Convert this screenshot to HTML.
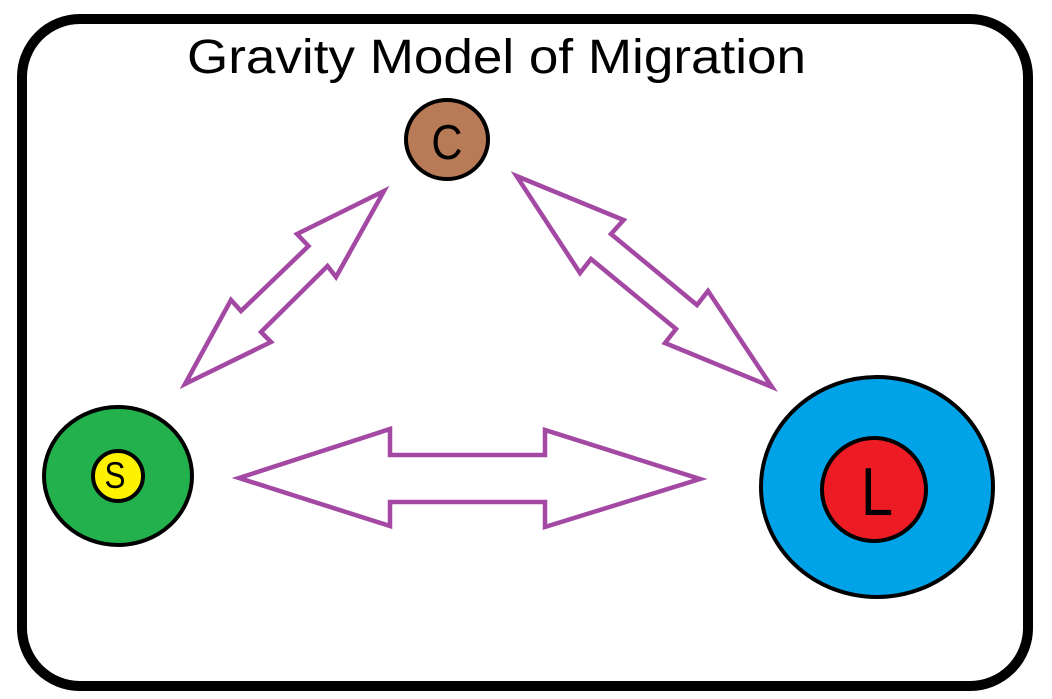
<!DOCTYPE html>
<html>
<head>
<meta charset="utf-8">
<style>
html,body{margin:0;padding:0;background:#fff;}
svg{display:block;}
</style>
</head>
<body>
<svg width="1052" height="699" viewBox="0 0 1052 699" xmlns="http://www.w3.org/2000/svg">
  <rect x="0" y="0" width="1052" height="699" fill="#ffffff"/>
  <!-- outer frame -->
  <rect x="22" y="19" width="1006" height="667" rx="58" ry="58" fill="#ffffff" stroke="#000" stroke-width="10"/>
  <line x1="80" y1="687" x2="972" y2="687" stroke="#000" stroke-width="4"/>

  <!-- title -->
  <text x="187" y="73" font-family="Liberation Sans, sans-serif" font-size="48" fill="#000" textLength="619" lengthAdjust="spacingAndGlyphs">Gravity Model of Migration</text>

  <!-- C node -->
  <ellipse cx="447" cy="139.5" rx="41" ry="39.5" fill="#B97A57" stroke="#000" stroke-width="4"/>
  <text x="447" y="159" text-anchor="middle" font-family="Liberation Sans, sans-serif" font-size="49" fill="#000" transform="translate(447 0) scale(0.88 1) translate(-447 0)">C</text>

  <!-- S node -->
  <ellipse cx="118" cy="476" rx="74" ry="69" fill="#22B14C" stroke="#000" stroke-width="4"/>
  <ellipse cx="118" cy="476" rx="25" ry="25" fill="#FFF200" stroke="#000" stroke-width="4"/>
  <text x="115" y="488" text-anchor="middle" font-family="Liberation Sans, sans-serif" font-size="37" fill="#000" transform="translate(115 0) scale(0.85 1) translate(-115 0)">S</text>

  <!-- L node -->
  <ellipse cx="877" cy="487" rx="116" ry="110" fill="#00A2E8" stroke="#000" stroke-width="4"/>
  <ellipse cx="874" cy="489.5" rx="52" ry="51.5" fill="#ED1C24" stroke="#000" stroke-width="4"/>
  <text x="877" y="515" text-anchor="middle" font-family="Liberation Sans, sans-serif" font-size="68" fill="#000" transform="translate(877 0) scale(0.85 1) translate(-877 0)">L</text>

  <!-- arrows -->
  <g fill="none" stroke="#A349A4" stroke-width="4.5" stroke-linejoin="miter" stroke-miterlimit="10">
    <!-- horizontal S <-> L -->
    <polygon points="239,478 390,429 390,455 545,455 545,430 700,479 545,527 545,502 390,502 390,526"/>
    <!-- S <-> C diagonal -->
    <polygon points="384,191 297,234 308.5,246 241,311 231,300 185,384 271,342 261,332 327.5,266 336,277"/>
    <!-- C <-> L diagonal -->
    <polygon points="516.5,176 623.6,220 611,234 697,305 708,291 772,387 665,343 676,329 591,259 580,273"/>
  </g>
</svg>
</body>
</html>
